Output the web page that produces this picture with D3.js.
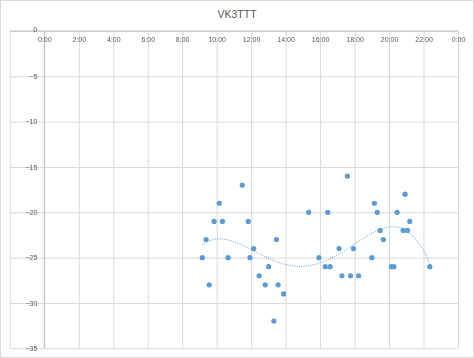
<!DOCTYPE html>
<html>
<head>
<meta charset="utf-8">
<script src="https://cdn.jsdelivr.net/npm/d3@7"></script>
<style>
  html, body { margin: 0; padding: 0; background: #fff; }
  svg { display: block; font-family: "Liberation Sans", Arial, sans-serif; }
  .lbl { filter: grayscale(100%); }
</style>
</head>
<body>
<svg id="chart" width="474" height="358"></svg>
<script>
// ---- data ----
const chartTitle = "VK3TTT";
const times = ["9:10","9:23","9:34","9:51","10:09","10:20","10:40","11:29","11:50","11:56",
  "12:09","12:28","12:49","13:01","13:19","13:28","13:34","13:53","15:20","15:56",
  "16:18","16:27","16:35","17:06","17:16","17:35","17:46","17:56","18:14","19:00",
  "19:09","19:19","19:29","19:40","20:08","20:17","20:28","20:49","20:56","21:04",
  "21:12","22:22"];
const snr = [-25,-23,-28,-21,-19,-21,-25,-17,-21,-25,
  -24,-27,-28,-26,-32,-23,-28,-29,-20,-25,
  -26,-20,-26,-24,-27,-16,-27,-24,-27,-25,
  -19,-20,-22,-23,-26,-26,-20,-22,-18,-22,
  -21,-26];
const xTickHours = [0,2,4,6,8,10,12,14,16,18,20,22,24];
const yTicks = [0,-5,-10,-15,-20,-25,-30,-35];
const trendOrder = 4;

(function () {
// ---- helpers ----
const toHours = s => { const [h, m] = s.split(":").map(Number); return h + m / 60; };
const points = times.map((t, i) => ({ x: toHours(t), y: snr[i] }));

// least squares polynomial fit (Excel-style trendline)
function polyfit(pts, order) {
  const n = order + 1;
  const A = Array.from({length: n}, () => new Array(n + 1).fill(0));
  pts.forEach(p => {
    for (let r = 0; r < n; r++) {
      for (let c = 0; c < n; c++) A[r][c] += Math.pow(p.x, r + c);
      A[r][n] += p.y * Math.pow(p.x, r);
    }
  });
  for (let i = 0; i < n; i++) {
    let max = i;
    for (let k = i + 1; k < n; k++) if (Math.abs(A[k][i]) > Math.abs(A[max][i])) max = k;
    [A[i], A[max]] = [A[max], A[i]];
    for (let k = i + 1; k < n; k++) {
      const f = A[k][i] / A[i][i];
      for (let j = i; j <= n; j++) A[k][j] -= f * A[i][j];
    }
  }
  const coef = new Array(n).fill(0);
  for (let i = n - 1; i >= 0; i--) {
    let s = A[i][n];
    for (let j = i + 1; j < n; j++) s -= A[i][j] * coef[j];
    coef[i] = s / A[i][i];
  }
  return x => coef.reduce((acc, c, i) => acc + c * Math.pow(x, i), 0);
}

// ---- drawing ----
const svg = d3.select("#chart");
const W = 474, H = 358;
const pLeft = 9.8, pRight = 458, pTop = 31, pBottom = 348.3;

const x = d3.scaleLinear().domain([-2, 24]).range([pLeft, pRight]);
const y = d3.scaleLinear().domain([0, -35]).range([pTop, pBottom]);

svg.append("rect").attr("x", 0.5).attr("y", 0.5).attr("width", W - 1).attr("height", H - 1)
  .attr("fill", "#fff").attr("stroke", "#d9d9d9");

// title
svg.append("text").attr("x", 237).attr("y", 17.5).attr("text-anchor", "middle")
  .attr("fill", "#595959").attr("font-size", 10.5).text(chartTitle);

// vertical gridlines
const gx = svg.append("g").attr("transform", `translate(0,${pTop})`)
  .call(d3.axisBottom(x).tickValues(d3.range(-2, 25, 2)).tickSize(pBottom - pTop).tickFormat(""));
gx.select(".domain").remove();
gx.selectAll(".tick line").attr("stroke", "#d9d9d9").attr("stroke-width", 1);

// horizontal gridlines
const gy = svg.append("g").attr("transform", `translate(${pLeft},0)`)
  .call(d3.axisLeft(y).tickValues(yTicks).tickSize(-(pRight - pLeft)).tickFormat(""));
gy.select(".domain").remove();
gy.selectAll(".tick line").attr("stroke", "#d9d9d9").attr("stroke-width", 1);

// axis lines
svg.append("line").attr("x1", pLeft).attr("x2", pRight).attr("y1", y(0)).attr("y2", y(0))
  .attr("stroke", "#bfbfbf");
svg.append("line").attr("x1", x(0)).attr("x2", x(0)).attr("y1", pTop).attr("y2", pBottom)
  .attr("stroke", "#bfbfbf");

// x labels
const xa = svg.append("g").attr("class", "lbl").attr("transform", `translate(0,${y(0)})`)
  .call(d3.axisBottom(x).tickValues(xTickHours).tickSize(0).tickPadding(6)
    .tickFormat(h => `${h % 24}:00`));
xa.select(".domain").remove();
xa.selectAll("text").attr("fill", "#595959").attr("font-size", 7)
  .attr("font-family", "'Liberation Sans', Arial, sans-serif");

// y labels
const ya = svg.append("g").attr("class", "lbl").attr("transform", `translate(${x(0)},0)`)
  .call(d3.axisLeft(y).tickValues(yTicks).tickSize(0).tickPadding(7));
ya.select(".domain").remove();
ya.selectAll("text").attr("fill", "#595959").attr("font-size", 7)
  .attr("font-family", "'Liberation Sans', Arial, sans-serif");
ya.selectAll(".tick").filter(d => d === 0).select("text").attr("dy", "0.1em");

// trendline
const f = polyfit(points, trendOrder);
const xExt = d3.extent(points, p => p.x);
const trend = d3.range(xExt[0], xExt[1] + 1e-9, (xExt[1] - xExt[0]) / 200).map(h => [h, f(h)]);
svg.append("path").datum(trend)
  .attr("d", d3.line().x(d => x(d[0])).y(d => y(d[1])))
  .attr("fill", "none").attr("stroke", "#5b9bd5").attr("stroke-width", 1)
  .attr("stroke-dasharray", "1,1.3");

// points
svg.append("g").selectAll("circle").data(points).join("circle")
  .attr("cx", d => x(d.x)).attr("cy", d => y(d.y)).attr("r", 2.6)
  .attr("fill", "#5b9bd5");
})();
</script>
</body>
</html>
